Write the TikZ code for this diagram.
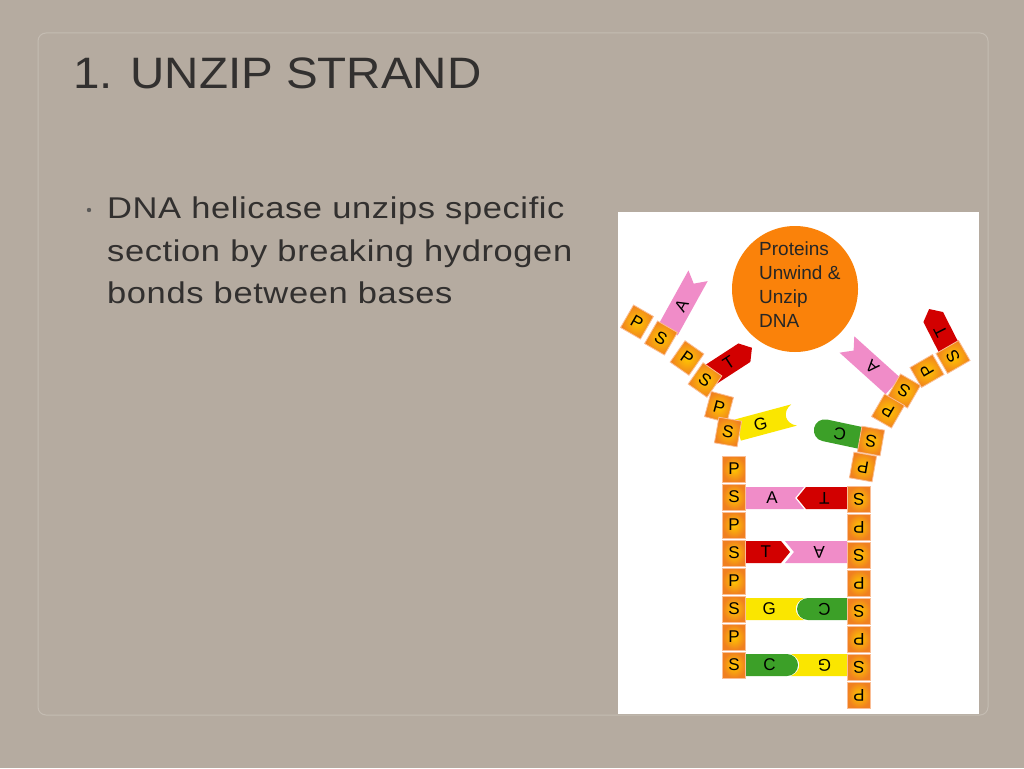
\documentclass[tikz,border=0pt]{standalone}
\usepackage{fontspec}
\setmainfont{Liberation Sans}
\newfontfamily\titlefont[FakeStretch=1.08]{Liberation Sans}
\newfontfamily\bodyfont[FakeStretch=1.15,LetterSpace=2]{Liberation Sans}
\begin{document}
\begin{tikzpicture}[x=1pt,y=-1pt,
  bbox/.style={minimum width=23pt,minimum height=26pt,inner sep=0pt,draw=BoxEdge,line width=0.8pt,
    inner color=BoxIn,outer color=BoxOut,font=\fontsize{17}{17}\selectfont,text=black},
  lt/.style={font=\fontsize{17}{17}\selectfont,text=black,inner sep=0pt}]
\definecolor{Bg}{RGB}{181,171,160}
\definecolor{Frame}{RGB}{196,188,178}
\definecolor{Ink}{RGB}{50,48,47}
\definecolor{BoxEdge}{RGB}{250,190,150}
\definecolor{BoxIn}{RGB}{255,200,0}
\definecolor{BoxOut}{RGB}{240,128,32}
\definecolor{PinkB}{RGB}{240,140,200}
\definecolor{RedB}{RGB}{210,0,0}
\definecolor{YelB}{RGB}{250,230,0}
\definecolor{GrnB}{RGB}{60,160,40}
\definecolor{Orb}{RGB}{250,130,10}
\useasboundingbox (0,0) rectangle (1024,768);
\fill[Bg] (0,0) rectangle (1024,768);
\draw[Frame,line width=1pt,rounded corners=8pt] (38,33) rectangle (988,715);
\node[anchor=base west,inner sep=0pt,text=Ink,font=\titlefont\fontsize{44}{44}\selectfont] (title) at (73,88) {1. UNZIP STRAND};
\fill[Ink!80] (89,210) circle (2.2);
\node[anchor=north west,inner sep=0pt,text=Ink,align=left,font=\bodyfont\fontsize{30}{42.5}\selectfont] (body) at (107,197) {DNA helicase unzips specific\\section by breaking hydrogen\\bonds between bases};
% panel
\fill[white] (618,212) rectangle (979,714);
\fill[Orb] (795,289) circle (63);
\node[anchor=north west,inner sep=0pt,align=left,text=black!85,font=\fontsize{19}{24}\selectfont] (orbtxt) at (759,242) {Proteins\\Unwind \&\\Unzip\\DNA};
\newcommand\baseA[5]{\begin{scope}[shift={(#1,#2)},rotate=#3]
 \fill[PinkB] (0,-11)--(#4,-11)--(#4-9,0)--(#4,11)--(0,11)--cycle;
 \node[lt,rotate=#3] at (#4*0.45,0) {#5};\end{scope}}
\newcommand\baseT[5]{\begin{scope}[shift={(#1,#2)},rotate=#3]
 \fill[RedB] (0,-11)--(#4-9,-11)--(#4,0)--(#4-9,11)--(0,11)--cycle;
 \node[lt,rotate=#3] at (#4*0.45,0) {#5};\end{scope}}
\newcommand\baseG[5]{\begin{scope}[shift={(#1,#2)},rotate=#3]
 \fill[YelB] (0,-11)--(#4,-11) .. controls (#4-11,-6) and (#4-11,6) .. (#4,11)--(0,11)--cycle;
 \node[lt,rotate=#3] at (#4*0.4,0) {#5};\end{scope}}
\newcommand\baseC[5]{\begin{scope}[shift={(#1,#2)},rotate=#3]
 \fill[GrnB] (0,-11)--(#4-11,-11) arc[start angle=-90,end angle=90,radius=11]--(0,11)--cycle;
 \node[lt,rotate=#3] at (#4*0.45,0) {#5};\end{scope}}
\baseA{746}{498}{0}{58}{A}
\baseT{847}{498}{180}{50}{T}
\baseA{847}{552}{180}{62}{A}
\baseT{746}{552}{0}{44}{T}
\baseG{746}{609}{0}{58}{G}
\baseC{847}{609}{180}{50}{C}
\baseG{847}{665}{180}{56}{G}
\baseC{746}{665}{0}{52}{C}
\baseA{668}{330}{61}{62}{A}
\baseT{710}{375}{33}{50}{T}
\baseG{738}{430}{15}{58}{G}
\baseC{861}{438}{168}{48}{C}
\baseA{893}{386}{138}{62}{A}
\baseT{950}{350}{117}{46}{T}
\foreach \l [count=\i] in {P,S,P,S,P,S,P,S} \node[bbox] (L\i) at (734,455+\i*28-14) {\l};
\foreach \l [count=\i] in {S,P,S,P,S,P,S,P} \node[bbox,rotate=180] (R\i) at (859,485+\i*28-14) {\l};
\node[bbox,rotate=-30] (la1) at (637,322) {P};
\node[bbox,rotate=-30] (la2) at (661,338) {S};
\node[bbox,rotate=-35] (la3) at (687,358) {P};
\node[bbox,rotate=-35] (la4) at (705,380) {S};
\node[bbox,rotate=-15] (la5) at (719,407) {P};
\node[bbox,rotate=-10] (la6) at (728,432) {S};
\node[bbox,rotate=120] (ra1) at (953,357) {S};
\node[bbox,rotate=120] (ra2) at (927,371) {P};
\node[bbox,rotate=150] (ra3) at (904,391) {S};
\node[bbox,rotate=150] (ra4) at (888,411) {P};
\node[bbox,rotate=170] (ra5) at (871,441) {S};
\node[bbox,rotate=170] (ra6) at (863,467) {P};
\end{tikzpicture}
\end{document}
